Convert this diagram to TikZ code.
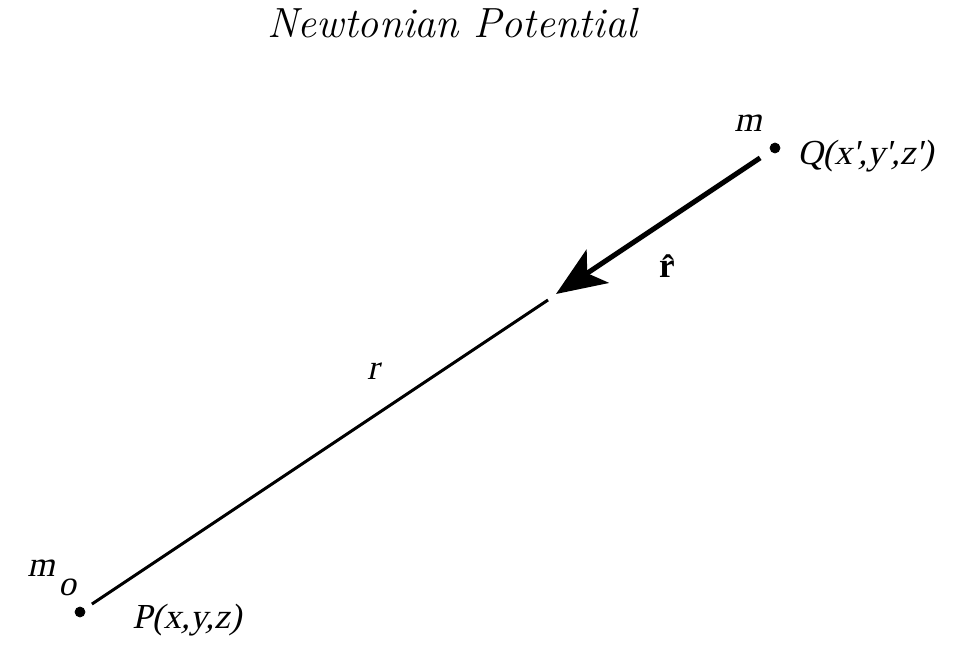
\documentclass[tikz,border=0pt]{standalone}
\usepackage{fontspec}
\newfontfamily\timesfont{Liberation Serif}[ItalicFont={Liberation Serif},ItalicFeatures={FakeSlant=0.22}]
\usepackage{tikz}
\usetikzlibrary{arrows.meta,positioning}

\begin{document}
\begin{tikzpicture}[x=0.2mm,y=-0.2mm,
    dot/.style={draw, circle, fill=black, inner sep=0pt, minimum size=2mm},
    lbl/.style={inner sep=0pt, font=\fontsize{20}{24}\selectfont\timesfont\itshape}]
            \useasboundingbox (0,0) rectangle (955,645);
            \node[anchor=base, font=\fontsize{24}{28}\selectfont\itshape] (title) at (452,38) {Newtonian Potential};

            \node[dot] (Q) at (775,148){};
            \node[dot] (P) at (80,612){};
            \coordinate (tip) at (556,294);
            \coordinate (gap) at (548,300);

            \node[lbl, anchor=base] (m) at (748,132) {m};
            \node[lbl, anchor=base west] (Qlbl) at (797,165) {Q(x\textquotesingle,y\textquotesingle,z\textquotesingle)};
            \node[lbl, anchor=base, font=\fontsize{20}{24}\selectfont\timesfont\bfseries] (rhat) at (667,278) {\^{r}};
            \node[lbl, anchor=base] (r) at (373,380) {r};
            \node[lbl, anchor=base west] (mo) at (27,576) {m};
            \node[lbl, anchor=base west] (mosub) at (58,595) {o};
            \node[lbl, anchor=base west] (Plbl) at (132,628) {P(x,y,z)};

            \path
            (Q) edge[line width=1mm, shorten <=2.5mm, -{Stealth[length=10mm,width=8mm,inset=2.5mm]}] (tip)
            (gap) edge[line width=0.6mm, shorten >=1.8mm] (P);

            \end{tikzpicture}
\end{document}
